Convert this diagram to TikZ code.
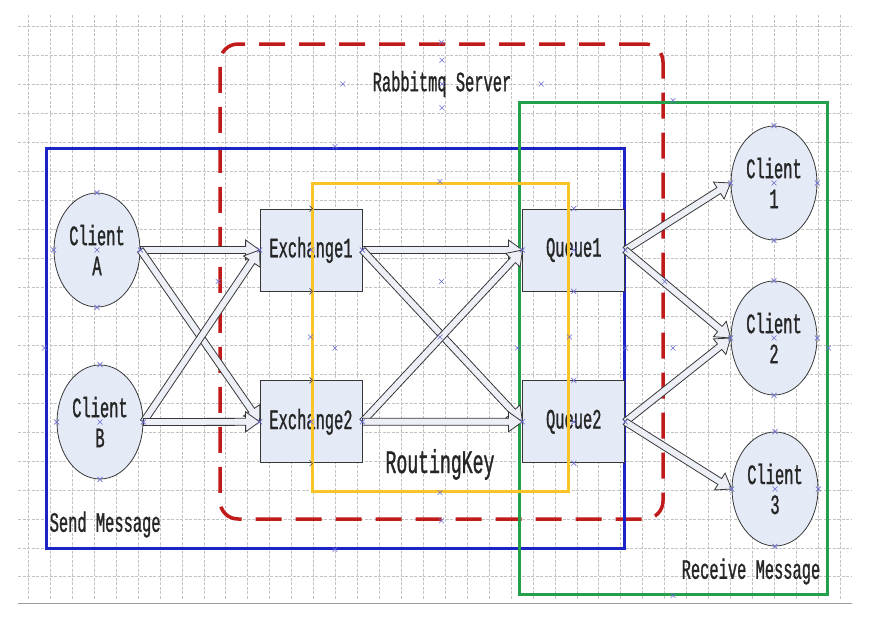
\documentclass[tikz,border=0pt]{standalone}
\usepackage{fontspec}
\newfontfamily\visiofont[FakeStretch=0.55, FakeBold=1]{Liberation Mono}
\usepackage{tikz}
\usetikzlibrary{calc, positioning, shapes.geometric}
\definecolor{fondoNodo}{RGB}{228,234,246}
\definecolor{fondoFlecha}{RGB}{236,239,246}
\definecolor{bordeGris}{RGB}{55,55,55}
\definecolor{rojoServer}{RGB}{192,26,26}
\definecolor{azulSend}{RGB}{28,36,200}
\definecolor{amarilloKey}{RGB}{250,196,40}
\definecolor{verdeRecv}{RGB}{36,160,76}
\definecolor{azulMarca}{RGB}{110,110,210}
\definecolor{gris}{RGB}{195,195,195}

\newcommand{\hollowarrow}[2]{%
  \coordinate (hc) at ($(#2)!14pt!(#1)$);
  \draw[harrow] ($(#1)!3.5pt!90:(#2)$) -- ($(hc)!3.5pt!90:(#2)$)
    -- ($(hc)!10pt!90:(#2)$) -- (#2) -- ($(hc)!10pt!-90:(#2)$)
    -- ($(hc)!3.5pt!-90:(#2)$) -- ($(#1)!3.5pt!-90:(#2)$) -- cycle;}

\begin{document}
\begin{tikzpicture}[x=1pt, y=-1pt,
  txt/.style={font=\visiofont\fontsize{28}{30}\selectfont, text=black!85, inner sep=0pt},
  client/.style={ellipse, draw=bordeGris, fill=fondoNodo, line width=0.8pt,
                 minimum width=86pt, minimum height=114pt, inner sep=0pt, align=center, txt},
  box/.style={rectangle, draw=bordeGris, fill=fondoNodo, line width=0.8pt,
              minimum width=102pt, minimum height=82pt, inner sep=0pt, txt},
  frame/.style={rectangle, line width=3pt, inner sep=0pt},
  harrow/.style={draw=bordeGris, fill=fondoFlecha, line width=0.8pt, line join=miter},
  gridline/.style={draw=gris, line width=0.6pt, dash pattern=on 3pt off 1.5pt},
  xm/.style={draw=azulMarca, line width=0.6pt},
  chev/.style={draw=bordeGris!70!azulMarca, line width=0.6pt}
]
  \useasboundingbox (0,0) rectangle (894,627);

  \foreach \i in {0,...,37}
    \draw[gridline] (28.3+21.94*\i,15) -- (28.3+21.94*\i,600);
  \foreach \j in {0,...,19}
    \draw[gridline] (18,26.7+28.95*\j) -- (852,26.7+28.95*\j);
  \draw[gris!80!black, line width=1pt] (18,603) -- (852,603);

  \node[frame, draw=rojoServer, rounded corners=18pt, dash pattern=on 26pt off 14pt,
        line width=3.5pt, minimum width=443pt, minimum height=475pt] (server) at (441.5,281.5) {};
  \node[frame, draw=azulSend, minimum width=578pt, minimum height=400pt] (send) at (335,348) {};
  \node[frame, draw=verdeRecv, minimum width=308pt, minimum height=492pt] (recv) at (673,348) {};

  \node[client] (ca) at (97,250) {Client\\A};
  \node[client] (cb) at (100,422) {Client\\B};
  \node[client] (c1) at (774,183) {Client\\1};
  \node[client] (c2) at (774,338) {Client\\2};
  \node[client] (c3) at (775,489) {Client\\3};

  \node[box] (ex1) at (311,250) {Exchange1};
  \node[box, below=89pt of ex1] (ex2) {Exchange2};
  \node[box, right=160pt of ex1] (q1) {Queue1};
  \node[box, right=160pt of ex2] (q2) {Queue2};

  \node[frame, draw=amarilloKey, minimum width=256pt, minimum height=308pt] (routing) at (440,337) {};

  \node[txt, minimum width=198pt, minimum height=47pt] (rabbit) at (442,84) {Rabbitmq Server};
  \node[txt, font=\visiofont\fontsize{33}{36}\selectfont] (rkey) at ($(routing.south)+(0,-28)$) {RoutingKey};
  \node[txt, anchor=west] (sendlbl) at ($(send.south west)+(5,-25)$) {Send Message};
  \node[txt, anchor=east] (recvlbl) at ($(recv.south east)+(-8,-24)$) {Receive Message};

  \hollowarrow{ca.east}{ex1.west}
  \hollowarrow{ca.east}{ex2.west}
  \hollowarrow{cb.east}{ex1.west}
  \hollowarrow{cb.east}{ex2.west}
  \hollowarrow{ex1.east}{q1.west}
  \hollowarrow{ex1.east}{q2.west}
  \hollowarrow{ex2.east}{q1.west}
  \hollowarrow{ex2.east}{q2.west}
  \hollowarrow{q1.east}{c1.west}
  \hollowarrow{q1.east}{c2.west}
  \hollowarrow{q2.east}{c2.west}
  \hollowarrow{q2.east}{c3.west}

  \foreach \n in {ca,cb,c1,c2,c3,q1,q2,server,send,recv,routing,rabbit}
    \foreach \a in {north,south,east,west,center}
      \draw[xm] (\n.\a) +(-2.5,-2.5) -- +(2.5,2.5) +(-2.5,2.5) -- +(2.5,-2.5);
  \foreach \n in {ex1,ex2}
    \foreach \a in {east,west,center}
      \draw[xm] (\n.\a) +(-2.5,-2.5) -- +(2.5,2.5) +(-2.5,2.5) -- +(2.5,-2.5);
  \foreach \p in {ex1.north,ex1.south,ex2.north,ex2.south}
    \draw[chev] ($(\p)+(-1.5,-3)$) -- ++(3,3) -- ++(-3,3);
\end{tikzpicture}
\end{document}
